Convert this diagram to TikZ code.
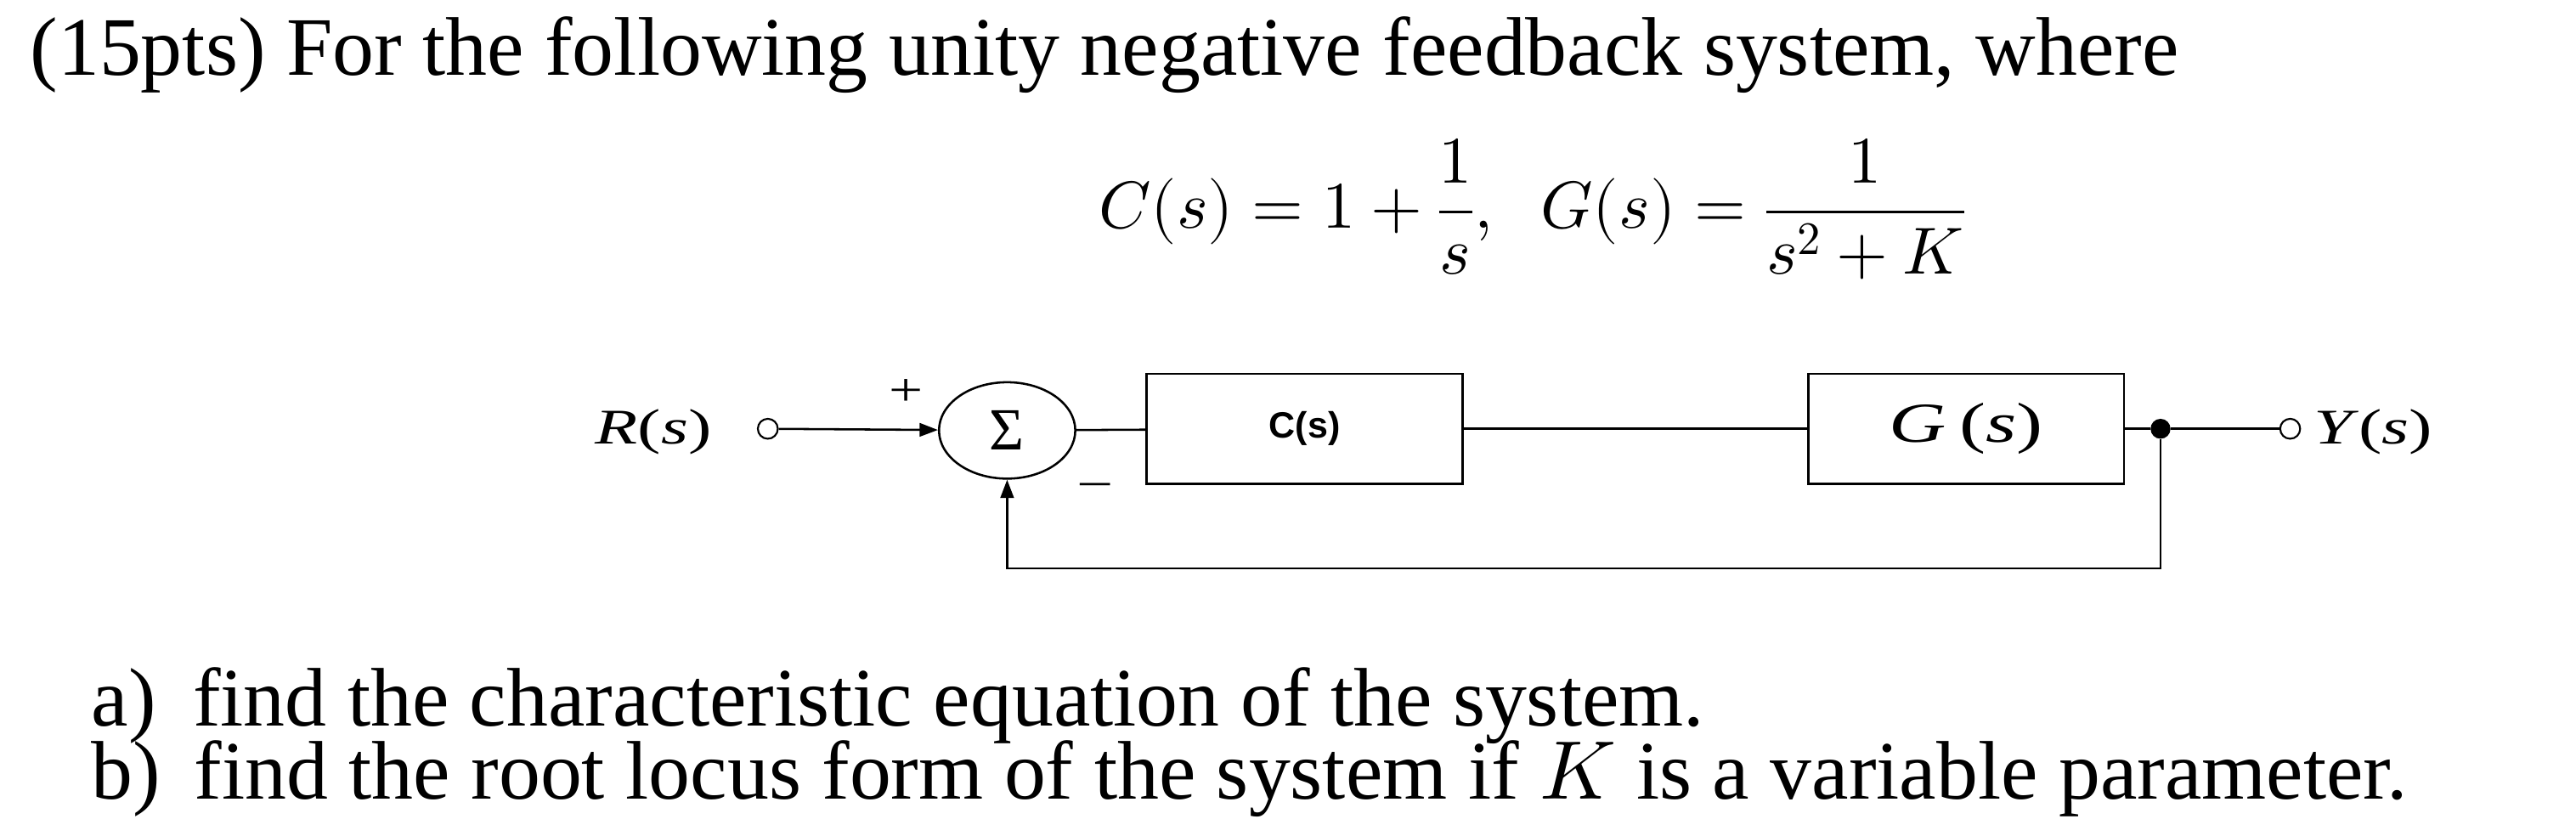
\documentclass[tikz,border=0pt]{standalone}
\usepackage{amsmath}
\usepackage{fontspec}
\usepackage{unicode-math}
\setmainfont{Liberation Serif}
\setmathfont{Latin Modern Math}
\newfontfamily\arialf{Liberation Sans}
\usetikzlibrary{arrows.meta,shapes.geometric}
\begin{document}
\begin{tikzpicture}[x=1pt,y=-1pt,
  blk/.style={draw,line width=1.3pt,minimum width=190pt,minimum height=66pt,inner sep=0pt},
  wire/.style={line width=1.3pt},
  arr/.style={wire,-{Triangle[length=11pt,width=8pt]}},
  term/.style={circle,draw,line width=1.1pt,minimum size=12pt,inner sep=0pt},
  txt/.style={inner sep=0pt,anchor=base west}]
\useasboundingbox (0,0) rectangle (1550,503);
\node[txt,font=\fontsize{50}{58}\selectfont] (title) at (18,45) {(15pts) For the following unity negative feedback system, where};
\node[inner sep=0pt,font=\fontsize{40}{48}\selectfont] (eq) at (922,126) {$C(s)=1+\dfrac{1}{s},\;\; G(s)=\dfrac{1}{s^2+K}$};
\node[txt,font=\fontsize{30}{34}\selectfont] (R) at (358,267) {\scalebox{1.4}[1]{\textit{R}(\textit{s})}};
\node[term] (rin) at (462,258) {};
\node[ellipse,draw,line width=1.3pt,minimum width=82pt,minimum height=58pt,inner sep=0pt,font=\fontsize{36}{40}\selectfont] (sum) at (606,259) {Σ};
\node[font=\fontsize{28}{32}\selectfont] (plus) at (545,236) {\scalebox{1.3}[1]{+}};
\node[font=\fontsize{28}{32}\selectfont] (minus) at (659,296) {\scalebox{1.4}[1]{−}};
\node[blk,font=\arialf\bfseries\fontsize{22}{26}\selectfont] (C) at (785,258) {C(s)};
\node[blk,font=\fontsize{34}{38}\selectfont] (G) at (1183,258) {\scalebox{1.4}[1]{\textit{G}\,(\textit{s})}};
\node[circle,fill,inner sep=0pt,minimum size=12pt] (dot) at (1300,258) {};
\node[term] (yout) at (1378,258) {};
\node[txt,font=\fontsize{30}{34}\selectfont] (Y) at (1392,267) {\scalebox{1.4}[1]{\textit{Y}(\textit{s})}};
\coordinate (fb) at (1300,342);
\draw[arr] (rin) -- (sum);
\draw[wire] (sum) -- (C);
\draw[wire] (C) -- (G);
\draw[wire] (G) -- (dot) -- (yout);
\draw[arr] (dot) -- (fb) -| (sum.south);
\node[txt,font=\fontsize{50}{58}\selectfont] (a) at (55,437) {a)\hspace{22pt}find the characteristic equation of the system.};
\node[txt,font=\fontsize{50}{58}\selectfont] (b) at (55,481) {b)\hspace{20pt}find the root locus form of the system if $K$ is a variable parameter.};
\end{tikzpicture}
\end{document}
